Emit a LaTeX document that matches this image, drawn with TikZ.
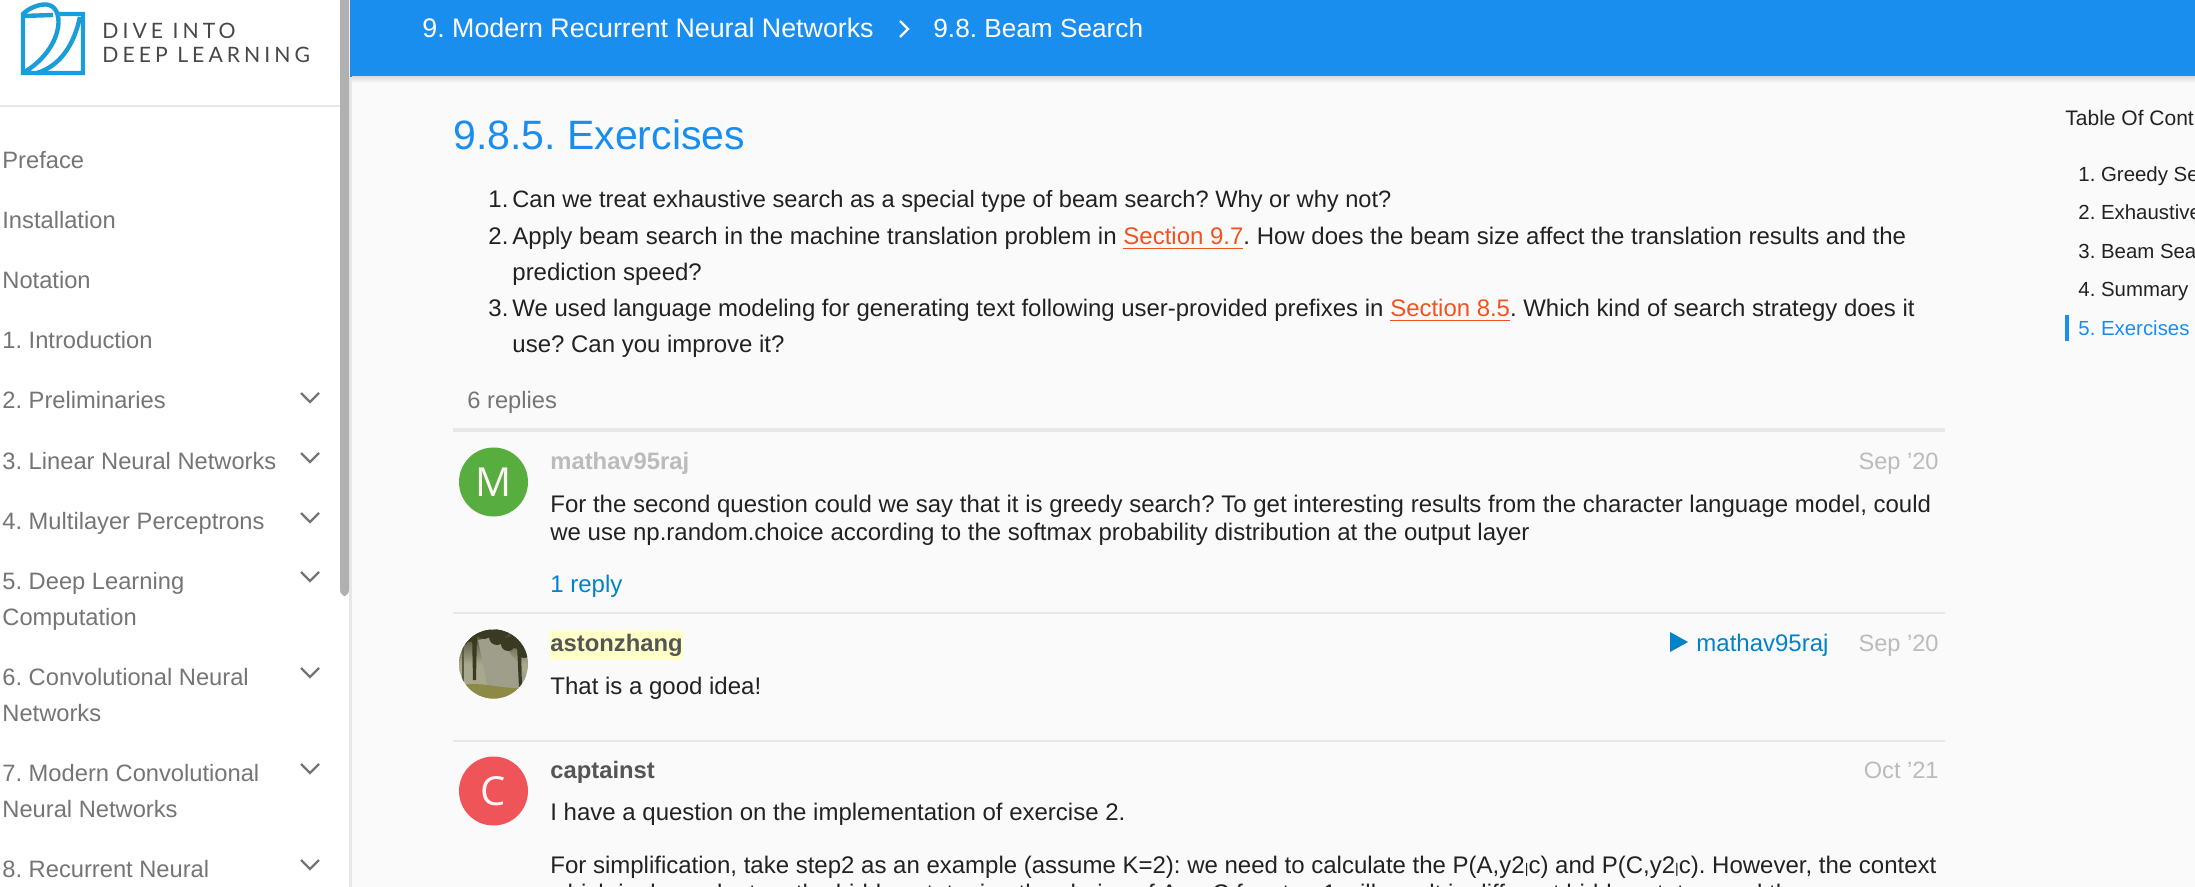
\documentclass[tikz,border=0pt]{standalone}
\usepackage{fontspec}
\setmainfont{Liberation Sans}
\newfontfamily\logofont[LetterSpace=19]{Lato}
\newfontfamily\avatarfont{Open Sans}
\usepackage{tikz}
\definecolor{headblue}{HTML}{1A8EEE}
\definecolor{logoblue}{HTML}{1A9DDB}
\definecolor{pagegray}{HTML}{FAFAFA}
\definecolor{sidegray}{HTML}{757575}
\definecolor{rulegray}{HTML}{E7E7E7}
\definecolor{bargray}{HTML}{B0B0B0}
\definecolor{bodyblack}{HTML}{222222}
\definecolor{linkred}{HTML}{F4511E}
\definecolor{linkblue}{HTML}{0083C9}
\definecolor{namegray}{HTML}{555555}
\definecolor{fadegray}{HTML}{BBBBBB}
\definecolor{markyellow}{HTML}{FFFFC8}
\definecolor{avgreen}{HTML}{57AE3F}
\definecolor{avred}{HTML}{EF5458}
\definecolor{leafdark}{HTML}{3A3A22}
\definecolor{mistgray}{HTML}{A9A88F}
\definecolor{mossy}{HTML}{8D8A45}
\newcommand{\tinybar}{{\fontsize{7}{7}\selectfont|}}
\tikzset{
  txt/.style={anchor=base west,inner sep=0pt,font=\fontsize{12}{14}\selectfont,text=bodyblack},
  side/.style={txt,font=\fontsize{11.85}{14}\selectfont,text=sidegray},
  toc/.style={txt,font=\fontsize{10.2}{12}\selectfont},
  body/.style={txt,font=\fontsize{12}{14}\selectfont},
  nameb/.style={txt,font=\fontsize{11.9}{14}\selectfont\bfseries,text=namegray},
  datel/.style={txt,anchor=base east,font=\fontsize{11.8}{14}\selectfont,text=fadegray},
  logot/.style={txt,font=\fontsize{10.6}{13}\selectfont\logofont,text=namegray!85!black},
  avat/.style={circle,minimum size=34.5pt,inner sep=0pt,text=white!85!pink,font=\fontsize{20}{20}\selectfont\avatarfont},
  chev/.style={draw=sidegray,line width=1.2pt},
  rulel/.style={draw=rulegray,line width=1pt}
}
\begin{document}
\frenchspacing
\begin{tikzpicture}[x=0.5pt,y=-0.5pt]
\useasboundingbox (0,0) rectangle (2195,887);
\clip (0,0) rectangle (2195,887);
\fill[pagegray] (0,0) rectangle (2195,887);

% sidebar
\fill[white] (0,0) rectangle (349,887);
\fill[rulegray] (349,77) rectangle (352,887);
\fill[bargray,rounded corners=3pt] (340,-10) rectangle (349,596);
\draw[rulel] (0,106) -- (340,106);
\foreach \nm/\yy/\lab in {pre/169/Preface,inst/229/Installation,nota/289/Notation,intr/349/1. Introduction,
  prel/409/2. Preliminaries,line/469/3. Linear Neural Networks,mult/529/4. Multilayer Perceptrons,
  deep/589/5. Deep Learning,comp/625/Computation,conv/685/6. Convolutional Neural,netw/721/Networks,
  mod/781/7. Modern Convolutional,neur/817/Neural Networks,recu/877/8. Recurrent Neural}
  \node(\nm) at (2,\yy)[side]{\lab};
\foreach \yy in {397,457,517,576,672,768,864}
  \draw[chev] (301,\yy-4) -- (310,\yy+5) -- (319,\yy-4);

% logo
\draw[logoblue,line width=2.2pt,line join=miter] (58,14) -- (83,14) -- (83,73) -- (23,73) -- (23,14)
  .. controls (30,7) and (42,3) .. (49,5) .. controls (66,10) and (62,50) .. (23,73);
\draw[logoblue,line width=2.2pt] (23,16) -- (53,15);
\draw[logoblue,line width=2.2pt] (37,73) .. controls (60,66) and (74,45) .. (80,17);
\node(dive) at (102,39)[logot]{DIVE INTO};
\node(lear) at (102,63)[logot]{DEEP LEARNING};

% header
\fill[headblue] (350,0) rectangle (2195,77);
\shade[top color=gray!25,bottom color=pagegray] (352,77) rectangle (2195,83);
\node(crum1) at (422,38)[txt,text=white,font=\fontsize{13.4}{16}\selectfont]{9. Modern Recurrent Neural Networks};
\node(crum2) at (933,38)[txt,text=white,font=\fontsize{13.1}{16}\selectfont]{9.8. Beam Search};
\draw[white,line width=1.2pt] (900,21) -- (908,29) -- (900,37);

% exercises
\node(title) at (453,150)[txt,text=headblue,font=\fontsize{20.5}{25}\selectfont]{9.8.5. Exercises};
\node(num1) at (488,208)[txt]{1.};
\node(ex1) at (512,208)[txt,font=\fontsize{11.82}{14}\selectfont]{Can we treat exhaustive search as a special type of beam search? Why or why not?};
\node(num2) at (488,245)[txt]{2.};
\node(ex2) at (512,245)[txt]{Apply beam search in the machine translation problem in {\color{linkred}\underline{Section 9.7}}. How does the beam size affect the translation results and the};
\node(ex2b) at (512,281)[txt]{prediction speed?};
\node(num3) at (488,317)[txt]{3.};
\node(ex3) at (512,317)[txt,font=\fontsize{11.97}{14}\selectfont]{We used language modeling for generating text following user-provided prefixes in {\color{linkred}\underline{Section 8.5}}. Which kind of search strategy does it};
\node(ex3b) at (512,353)[txt]{use? Can you improve it?};

% replies
\node(rep) at (467,409)[side]{6 replies};
\draw[draw=rulegray,line width=2pt] (453,430) -- (1945,430);

\node(av1) at (493.5,482)[avat,fill=avgreen]{M};
\node(nam1) at (550,469)[nameb,text=fadegray]{mathav95raj};
\node(dat1) at (1939,469)[datel]{Sep '20};
\node(bod1) at (550,512)[body]{For the second question could we say that it is greedy search? To get interesting results from the character language model, could};
\node(bod1b) at (550,540)[body]{we use np.random.choice according to the softmax probability distribution at the output layer};
\node(lnk1) at (550,592)[body,text=linkblue]{1 reply};
\draw[rulel] (453,613) -- (1945,613);

% photo
\begin{scope}
\clip (493.5,664) circle (34.5);
\shade[top color=leafdark,bottom color=mistgray,middle color=mistgray] (458,629) rectangle (529,699);
\fill[gray!25!mistgray] (478,640) -- (498,636) -- (529,680) -- (529,699) -- (490,699) -- cycle;
\fill[mossy] (458,686) .. controls (480,680) and (500,690) .. (529,688) -- (529,699) -- (458,699) -- cycle;
\foreach \xx/\yy/\rr in {470/634/8,484/632/7,497/637/8,508/644/7,518/640/9,524/652/6,462/640/6,503/630/7}
  \fill[leafdark] (\xx,\yy) circle (\rr);
\fill[leafdark] (472,632) -- (477,632) -- (476,680) -- (473,680) -- cycle;
\fill[leafdark] (517,645) -- (521,645) -- (522,688) -- (519,688) -- cycle;
\fill[leafdark!70!mistgray] (462,640) -- (464,640) -- (464,684) -- (462,684) -- cycle;
\end{scope}
\node(av2) at (493.5,664)[circle,minimum size=34.5pt,inner sep=0pt]{};
\fill[markyellow] (550,630) rectangle (683,660);
\node(nam2) at (550,651)[nameb]{astonzhang};
\fill[linkblue] (1670,632) -- (1688,642) -- (1670,652) -- cycle;
\node(lnk2) at (1696,651)[body,text=linkblue]{mathav95raj};
\node(dat2) at (1939,651)[datel]{Sep '20};
\node(bod2) at (550,694)[body]{That is a good idea!};
\draw[rulel] (453,741) -- (1945,741);

\node(av3) at (493.5,791)[avat,fill=avred]{C};
\node(nam3) at (550,778)[nameb]{captainst};
\node(dat3) at (1939,778)[datel]{Oct '21};
\node(bod3) at (550,820)[body]{I have a question on the implementation of exercise 2.};
\node(bod3b) at (550,873)[body]{For simplification, take step2 as an example (assume K=2): we need to calculate the P(A,y2\tinybar c) and P(C,y2\tinybar c). However, the context};
\node(bod3c) at (550,901)[body]{which is dependent on the hidden state, i.e. the choice of A or C for step 1 will result in different hidden states, and the};

% toc
\node(toct) at (2065,126)[toc,font=\fontsize{10.5}{12}\selectfont]{Table Of Cont};
\foreach \nm/\yy/\lab in {toc1/182/1. Greedy Se,toc2/220/2. Exhaustive,toc3/259/3. Beam Sea,toc4/297/4. Summary}
  \node(\nm) at (2078,\yy)[toc]{\lab};
\node(toc5) at (2078,336)[toc,text=headblue]{5. Exercises};
\fill[headblue] (2065,315) rectangle (2069,341);
\end{tikzpicture}
\end{document}
